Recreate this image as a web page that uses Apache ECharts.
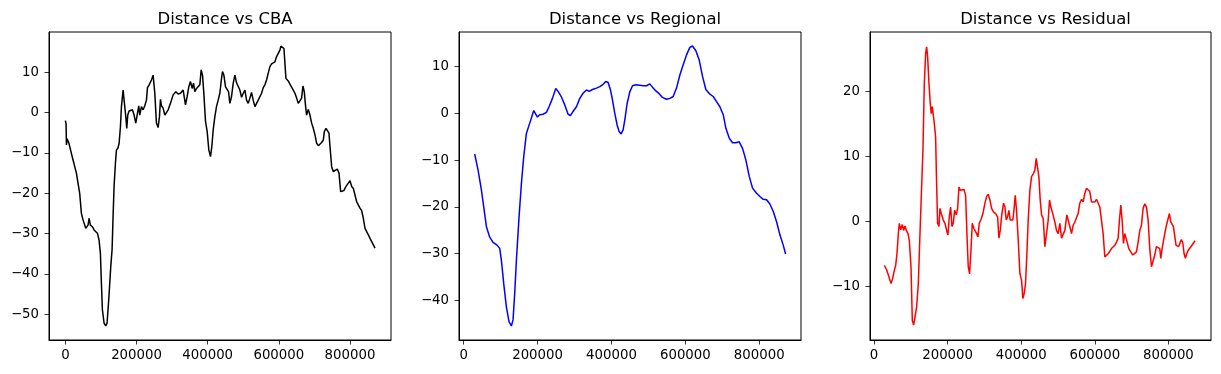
<!DOCTYPE html>
<html><head><meta charset="utf-8">
<script src="https://cdn.jsdelivr.net/npm/echarts@6/dist/echarts.min.js"></script>
<style>html,body{margin:0;padding:0;background:#fff}#c{width:1221px;height:374px}</style>
</head><body><div id="c"></div>
<script>
const titles = ['Distance vs CBA', 'Distance vs Regional', 'Distance vs Residual'];
const xTicks = [0, 200000, 400000, 600000, 800000];
const yTicksCBA = [-50, -40, -30, -20, -10, 0, 10];
const yTicksReg = [-40, -30, -20, -10, 0, 10];
const yTicksRes = [-10, 0, 10, 20];

const cbaDist = [0,2000,3000,5000,10000,16900,21400,31000,40300,45000,49700,57200,63800,66600,70300,76000,80700,85300,90000,94700,98500,101300,104100,108800,113500,117200,121900,127600,131300,134100,136900,140700,143500,148200,151000,154800,157600,162300,166000,169800,172600,175400,179100,183800,188500,193200,197900,202600,206300,209100,213800,218500,223200,227900,230800,235400,242000,246700,251400,256000,260700,264500,267300,270100,274800,279500,284200,288900,295400,302900,310400,317000,323600,331100,337600,342300,347000,351700,356400,360200,363900,368600,374200,378000,381700,385500,389200,393900,398600,403300,408000,411700,415500,420200,424800,429500,434200,438900,441700,445500,450200,453900,458600,462400,467100,471800,476500,481100,485800,490500,495200,499900,504600,509300,514000,518700,523300,528000,532800,537400,542100,546800,551500,556200,560900,565500,570200,574900,579600,584300,589000,593700,598400,603100,605900,610600,614400,617200,620000,623700,627500,631200,635900,640600,645300,650000,654700,659400,664000,667800,671500,675300,678100,682800,687500,692200,696900,701600,706300,711000,715600,720300,725000,727900,732600,737200,741000,743800,748500,753100,757800,764400,769100,773800,778500,783100,788800,795300,800000,804700,809400,814100,818800,823400,828100,832800,837500,842200,846900,851600,856300,861000,865700,870400];
const cbaVal = [-2.0,-2.8,-8.0,-6.5,-7.6,-10.1,-11.7,-15.0,-20.0,-25.0,-26.6,-28.7,-27.9,-26.2,-27.9,-28.3,-29.1,-28.7,-29.9,-31.6,-34.9,-42.3,-48.9,-52.2,-52.9,-52.2,-46.4,-38.2,-34.0,-25.8,-18.3,-12.6,-9.3,-8.7,-7.6,-3.5,1.5,5.6,5.8,-1.0,-3.9,-0.6,0.4,0.2,0.7,-0.6,-2.6,-0.2,1.7,-0.6,1.5,0.7,1.7,3.1,6.2,6.9,8.1,9.3,4.8,-2.6,-3.7,-1.0,3.3,1.7,1.1,-0.6,-1.0,0.7,2.3,4.4,5.2,4.6,4.8,5.6,1.9,4.0,6.4,7.7,6.0,7.3,5.2,6.0,5.6,6.9,10.6,9.3,4.8,-2.2,-4.7,-9.3,-10.9,-8.4,-4.3,-1.0,1.5,3.1,4.8,8.5,10.2,9.3,6.4,6.0,5.2,2.3,4.0,7.3,9.3,7.4,7.3,5.6,3.8,4.8,5.6,3.1,2.3,3.6,5.0,3.1,1.5,2.3,3.1,3.3,4.8,6.2,6.9,8.1,9.8,11.4,12.1,12.2,12.6,13.9,14.7,15.5,16.5,16.4,15.9,15.9,8.5,8.1,7.7,7.3,6.3,5.6,4.8,3.6,2.3,1.9,3.6,6.6,5.2,1.5,-0.6,0.8,-0.6,-2.6,-3.9,-5.5,-7.6,-8.2,-8.0,-7.4,-6.8,-4.7,-3.9,-4.0,-5.1,-8.4,-13.4,-14.6,-14.2,-14.0,-15.0,-19.6,-20.0,-19.3,-18.3,-17.5,-16.9,-18.3,-18.8,-19.2,-22.1,-22.9,-23.7,-24.3,-26.2,-28.7,-29.5,-30.3,-31.2,-32.0,-32.8,-33.6];

const regDist = [29800,38800,47900,54200,61400,70400,79500,90300,97500,102000,108300,115500,122800,129100,133600,138100,142700,149900,156200,162500,169700,178800,186000,189600,194100,199500,205900,214900,223900,231100,240200,249200,255500,264500,273600,282600,288900,296100,305200,314200,323200,332300,339500,348500,359400,368400,377400,384600,391000,397300,402700,409000,415300,420700,426200,431600,436100,442400,449600,456900,465900,476700,485800,494800,503800,511000,520100,529100,538100,549000,558000,567000,576100,585100,594100,603100,612200,619400,628400,637500,646500,655500,666400,675400,684400,693400,702500,709700,718700,727700,736800,745800,754800,763800,772900,781900,792700,801800,810800,819800,828800,837900,846900,855900,864900,871300];
const regVal = [-8.7,-12.1,-16.4,-20.0,-24.2,-26.5,-27.6,-28.2,-28.9,-31.4,-36.4,-41.4,-44.6,-45.5,-44.2,-38.5,-31.4,-22.1,-15.0,-9.3,-4.3,-2.1,-0.3,0.6,0.4,-0.8,-0.3,-0.2,0.2,1.4,3.2,5.3,4.7,3.5,1.8,-0.2,-0.5,0.4,1.4,3.2,4.3,5.0,4.7,5.1,5.4,5.7,6.2,6.8,6.6,5.0,2.9,0.0,-2.5,-3.9,-4.4,-3.5,-1.4,2.1,4.6,5.9,6.1,6.0,5.9,5.9,6.3,5.6,4.8,4.2,3.4,3.0,3.2,3.6,5.4,8.2,10.4,12.5,14.1,14.4,13.4,11.4,7.9,5.1,4.1,3.6,2.5,1.4,-0.3,-3.2,-5.3,-6.3,-6.3,-6.1,-7.5,-10.0,-13.5,-16.0,-17.1,-17.8,-18.4,-18.5,-19.4,-21.0,-23.2,-26.0,-28.2,-30.1];

const resDist = [28100,34400,40700,46200,50700,54300,58800,62400,66100,68800,72400,76900,80500,84200,87800,92300,95900,100500,104100,107700,111300,115800,120400,124900,129400,133000,136700,140300,143000,145700,149300,152900,155600,158400,161100,163800,167400,170100,172800,176500,179200,182800,188200,192800,197300,200900,204500,208200,211800,215400,219000,223500,227200,230800,234400,238900,244400,248900,252500,256100,259700,263400,267000,271500,275100,278700,282400,286000,291400,295900,301400,305900,310400,314900,319500,324000,330300,335800,339400,343000,347500,352000,355700,359300,362900,366500,370100,373800,377400,381000,383700,387300,391900,396400,400900,404500,408100,411700,415400,419000,423500,428100,433500,437100,440800,444400,448000,451600,455300,459800,464300,468800,473300,476900,480600,484200,487800,491400,495900,500500,505000,509500,514000,518600,524000,527600,532100,536700,541200,545700,550200,554700,559200,563800,568300,572800,577400,581900,586400,590900,595500,600000,604500,609100,613600,618100,622600,627200,631700,636200,640700,645300,649800,654300,658800,663400,666900,670600,674200,677800,681500,685100,688700,692300,697800,703200,708600,713100,717700,722200,726700,731200,735800,740300,744800,749300,753900,758400,762900,767400,772000,776500,779200,782800,786400,790100,794600,799100,802700,806300,810000,813600,817200,820800,824500,828100,831700,835300,839000,842600,846200,849800,853400,857900,862400,867000,872400];
const resVal = [-6.8,-7.5,-8.6,-9.6,-8.8,-7.8,-6.8,-5.0,-1.9,-0.3,-1.3,-0.5,-1.4,-0.7,-1.4,-1.9,-2.9,-7.0,-15.3,-16.0,-16.0,-13.2,-9.6,-1.9,5.3,11.0,21.3,25.9,26.9,25.4,21.3,18.2,16.6,17.7,16.4,15.1,13.0,5.8,-0.3,-0.8,2.0,1.2,0.2,-0.3,-1.4,-2.1,0.7,2.2,-0.8,-0.3,1.7,1.0,2.0,5.3,4.8,4.7,4.9,4.0,-1.9,-7.0,-8.1,-4.5,-0.3,-1.1,-0.8,-1.9,-2.4,-0.3,0.4,1.2,2.8,3.8,4.2,3.3,2.0,1.5,1.2,0.7,-2.6,-1.4,1.2,2.8,2.2,0.2,0.7,1.7,0.2,0.4,0.2,2.2,4.0,1.7,-2.9,-8.0,-9.1,-11.9,-11.1,-9.6,-5.0,0.2,4.8,6.9,7.4,7.9,9.7,9.7,6.9,3.3,1.0,0.4,-3.9,-1.9,0.2,3.3,2.2,1.5,1.7,-0.1,-1.4,-1.9,-0.3,-2.6,-2.9,-1.4,1.0,0.7,-0.8,-1.9,-0.6,-0.1,0.0,1.2,2.8,3.4,3.0,4.3,5.1,5.3,4.6,3.0,3.3,3.0,3.4,3.3,2.2,2.2,-1.9,-5.5,-5.7,-5.0,-5.0,-4.2,-3.9,-3.7,-3.2,-2.6,0.2,2.5,0.2,-3.4,-1.9,-2.1,-3.4,-4.2,-4.7,-5.2,-5.4,-4.7,-3.2,-1.4,-0.6,2.0,2.7,2.2,0.2,-4.2,-7.0,-6.8,-5.2,-3.9,-3.6,-4.2,-5.7,-4.2,-3.9,-1.9,-0.6,0.4,1.2,-0.1,-0.1,-0.8,-0.7,-3.7,-3.6,-3.9,-3.3,-2.8,-3.3,-5.0,-5.7,-5.0,-4.5,-4.2,-3.8,-3.5,-3.0];

const FONT = 'DejaVu Sans';
const minus = v => String(v).replace('-', '\u2212');
const panels = [
  {left: 49, width: 342, xmin: -46000, xmax: 915300, ymin: -56.4, ymax: 20.0, yt: yTicksCBA, x: cbaDist, y: cbaVal, color: '#000000'},
  {left: 459, width: 342, xmin: -12700, xmax: 913000, ymin: -48.5, ymax: 17.4, yt: yTicksReg, x: regDist, y: regVal, color: '#0000ff'},
  {left: 870, width: 341, xmin: -10900, xmax: 915700, ymin: -18.3, ymax: 29.2, yt: yTicksRes, x: resDist, y: resVal, color: '#ff0000'}
];
const chart = echarts.init(document.getElementById('c'), null, {renderer: 'canvas'});
const option = {
  animation: false,
  backgroundColor: '#ffffff',
  title: panels.map((p, i) => ({
    text: titles[i], left: p.left + p.width / 2, top: 6, textAlign: 'center',
    textStyle: {fontFamily: FONT, fontSize: 16.5, fontWeight: 'normal', color: '#000'}
  })),
  grid: panels.map(p => ({left: p.left, width: p.width, top: 32, height: 308, show: true, borderColor: '#000', borderWidth: 1, backgroundColor: 'transparent'})),
  xAxis: panels.map((p, i) => ({
    type: 'value', gridIndex: i, min: p.xmin, max: p.xmax,
    splitLine: {show: false},
    axisLine: {show: true, onZero: false, lineStyle: {color: '#000', width: 1}},
    axisTick: {show: true, length: 4.5, lineStyle: {color: '#000', width: 0.8}, customValues: xTicks},
    axisLabel: {customValues: xTicks, fontFamily: FONT, fontSize: 13.3, color: '#000', margin: 9, formatter: v => minus(v)}
  })),
  yAxis: panels.map((p, i) => ({
    type: 'value', gridIndex: i, min: p.ymin, max: p.ymax,
    splitLine: {show: false},
    axisLine: {show: true, onZero: false, lineStyle: {color: '#000', width: 1}},
    axisTick: {show: true, length: 4.5, lineStyle: {color: '#000', width: 0.8}, customValues: p.yt},
    axisLabel: {customValues: p.yt, fontFamily: FONT, fontSize: 13.3, color: '#000', margin: 10, formatter: v => minus(v)}
  })),
  series: panels.map((p, i) => ({
    type: 'line', xAxisIndex: i, yAxisIndex: i, showSymbol: false, symbol: 'none',
    data: p.x.map((d, k) => [d, p.y[k]]),
    lineStyle: {color: p.color, width: 1.5}, itemStyle: {color: p.color}
  }))
};
chart.setOption(option);
</script>
</body></html>
